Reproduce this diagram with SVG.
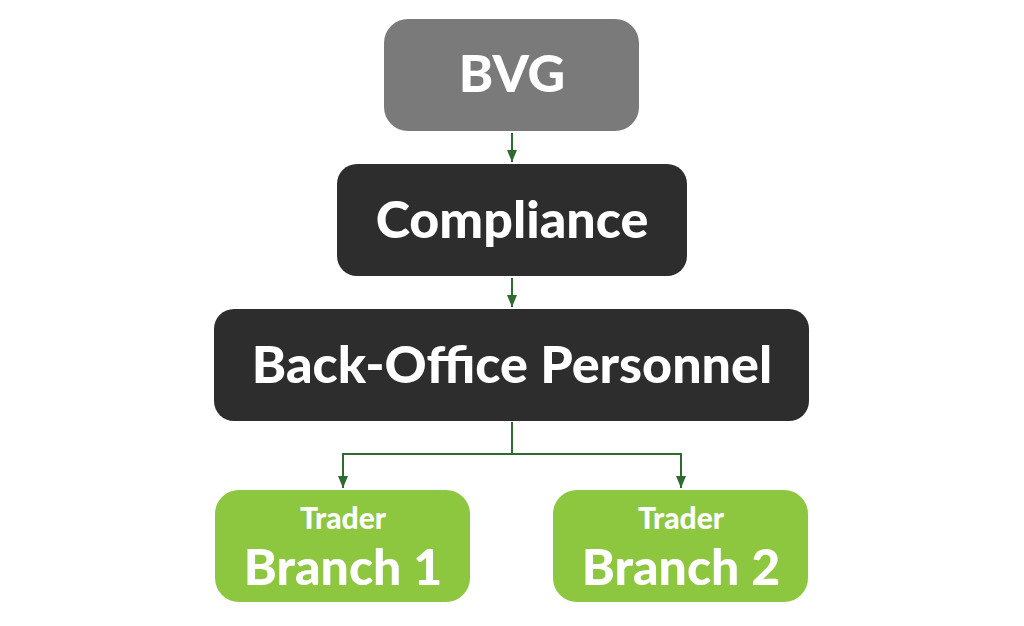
<svg xmlns="http://www.w3.org/2000/svg" width="1024" height="626" viewBox="0 0 1024 626">
<defs>
<style>
.t{font-family:Lato,"Liberation Sans",sans-serif;font-weight:900;fill:#ffffff;text-anchor:middle}
.c{fill:none;stroke:#2e6b30;stroke-width:2}
</style>
<marker id="a" markerWidth="12" markerHeight="10" refX="12" refY="5" orient="auto" markerUnits="userSpaceOnUse" viewBox="0 0 12 10">
<path d="M0,0 L12,5 L0,10 Z" fill="#2e6b30"/>
</marker>
</defs>
<rect width="1024" height="626" fill="#ffffff"/>
<g id="connectors">
<path class="c" d="M512,133 V162" marker-end="url(#a)"/>
<path class="c" d="M512,278 V307" marker-end="url(#a)"/>
<path class="c" d="M512,422 V454 H343 V488" marker-end="url(#a)"/>
<path class="c" d="M512,454 H681 V488" marker-end="url(#a)"/>
</g>
<g id="bvg">
<rect x="384" y="19" width="255" height="112" rx="24" fill="#7a7a7a"/>
<text class="t" x="512" y="92" font-size="52">BVG</text>
</g>
<g id="compliance">
<rect x="337" y="164" width="350" height="112" rx="20" fill="#2d2d2d"/>
<text class="t" x="512" y="238" font-size="52">Compliance</text>
</g>
<g id="backoffice">
<rect x="214" y="309" width="595" height="112" rx="20" fill="#2d2d2d"/>
<text class="t" x="512" y="383" font-size="52">Back-Office Personnel</text>
</g>
<g id="branch1">
<rect x="215" y="490" width="255" height="112" rx="24" fill="#8dc63f"/>
<text class="t" x="343" y="529" font-size="30">Trader</text>
<text class="t" x="343" y="585" font-size="50">Branch 1</text>
</g>
<g id="branch2">
<rect x="553" y="490" width="255" height="112" rx="24" fill="#8dc63f"/>
<text class="t" x="681" y="529" font-size="30">Trader</text>
<text class="t" x="681" y="585" font-size="50">Branch 2</text>
</g>
</svg>
